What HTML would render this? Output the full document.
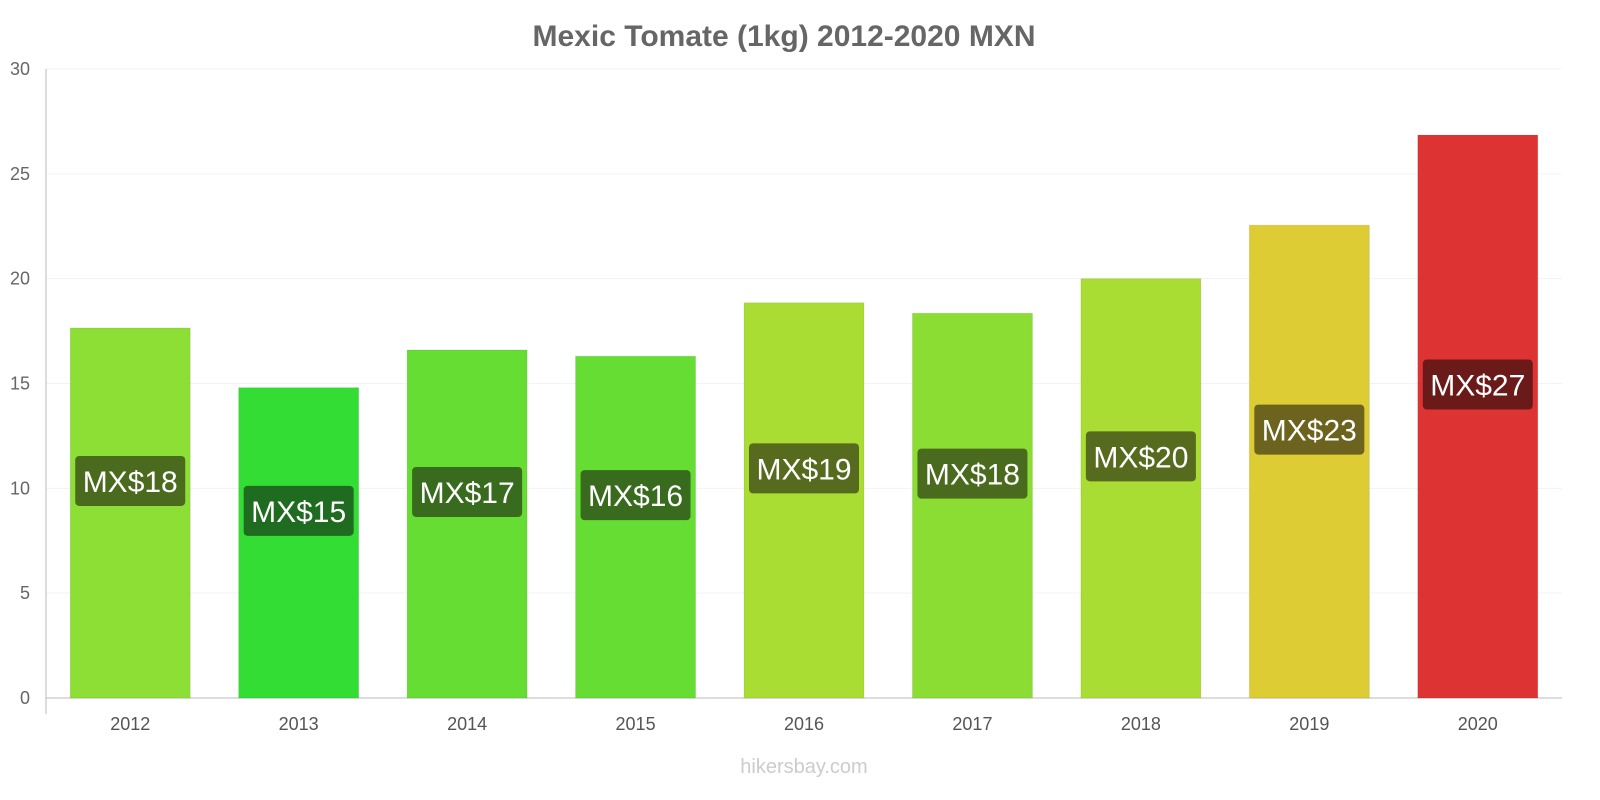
<!DOCTYPE html>
<html><head><meta charset="utf-8"><style>
html,body{margin:0;padding:0;background:#fff;font-family:"Liberation Sans",sans-serif;overflow:hidden;width:1600px;height:800px;}
svg{display:block;}
</style></head><body>
<svg id="chart" width="1600" height="800">
<text x="784" y="46" text-anchor="middle" font-size="30" font-weight="bold" fill="#666">Mexic Tomate (1kg) 2012-2020 MXN</text>
<text x="804" y="773" text-anchor="middle" font-size="20" fill="#ccc">hikersbay.com</text>
<g id="grid"></g><g id="bars"></g><g id="labels"></g>
</svg>
<script>
const categories=["2012","2013","2014","2015","2016","2017","2018","2019","2020"];
const values=[17.65,14.8,16.6,16.3,18.85,18.35,20,22.55,26.85];
const priceLabels=["MX$18","MX$15","MX$17","MX$16","MX$19","MX$18","MX$20","MX$23","MX$27"];
const barColors=["#8ddf36","#33dd33","#66dd33","#66dd33","#aadd33","#8cdd33","#aadd33","#ddcc33","#dd3333"];
const labelColors=["#4a6b1e","#1f6b1f","#386b1e","#386b1e","#566b1e","#4a6b1e","#566b1e","#6b631e","#6b1a1a"];
const yTicks=[0,5,10,15,20,25,30];
const NS="http://www.w3.org/2000/svg";
const x0=46,x1=1562,yb=698,yt=69,ymax=30;
const y=v=>yb-(yb-yt)*v/ymax;
const band=(x1-x0)/categories.length;
const xc=i=>x0+band*(i+0.5);
function mk(t,a,p){const e=document.createElementNS(NS,t);for(const k in a)e.setAttribute(k,a[k]);p.appendChild(e);return e;}
const grid=document.getElementById('grid'),bars=document.getElementById('bars'),labels=document.getElementById('labels');
yTicks.forEach(t=>{
 const l=mk('line',{x1:x0,x2:x1,y1:y(t),y2:y(t),stroke:t?'#f3f3f3':'#bbb'},grid);
 
 
 const tx=mk('text',{x:30,y:y(t)+6,'text-anchor':'end','font-size':18,fill:'#666'},grid);
 tx.textContent=t;
 
 
});
const ax=mk('line',{x1:x0,x2:x0,y1:yt,y2:714,stroke:'#bbb'},grid);


categories.forEach((c,i)=>{
 const w=120,cx=xc(i);
 const r=mk('rect',{x:cx-w/2,y:y(values[i]),width:w,height:yb-y(values[i]),fill:barColors[i],stroke:'rgba(0,0,0,0.08)'},bars);
 
 
 const tx=mk('text',{x:cx,y:730,'text-anchor':'middle','font-size':18,fill:'#555'},labels);
 tx.textContent=c;
 
 
 const ly=(y(values[i])+yb)/2-32;
 const bx=mk('rect',{x:cx-55,y:ly-25,width:110,height:50,rx:4,fill:labelColors[i]},labels);
 
 
 const vt=mk('text',{x:cx,y:ly+11,'text-anchor':'middle','font-size':30,fill:'#fff'},labels);
 vt.textContent=priceLabels[i];
 
 
});
</script>
</body></html>
